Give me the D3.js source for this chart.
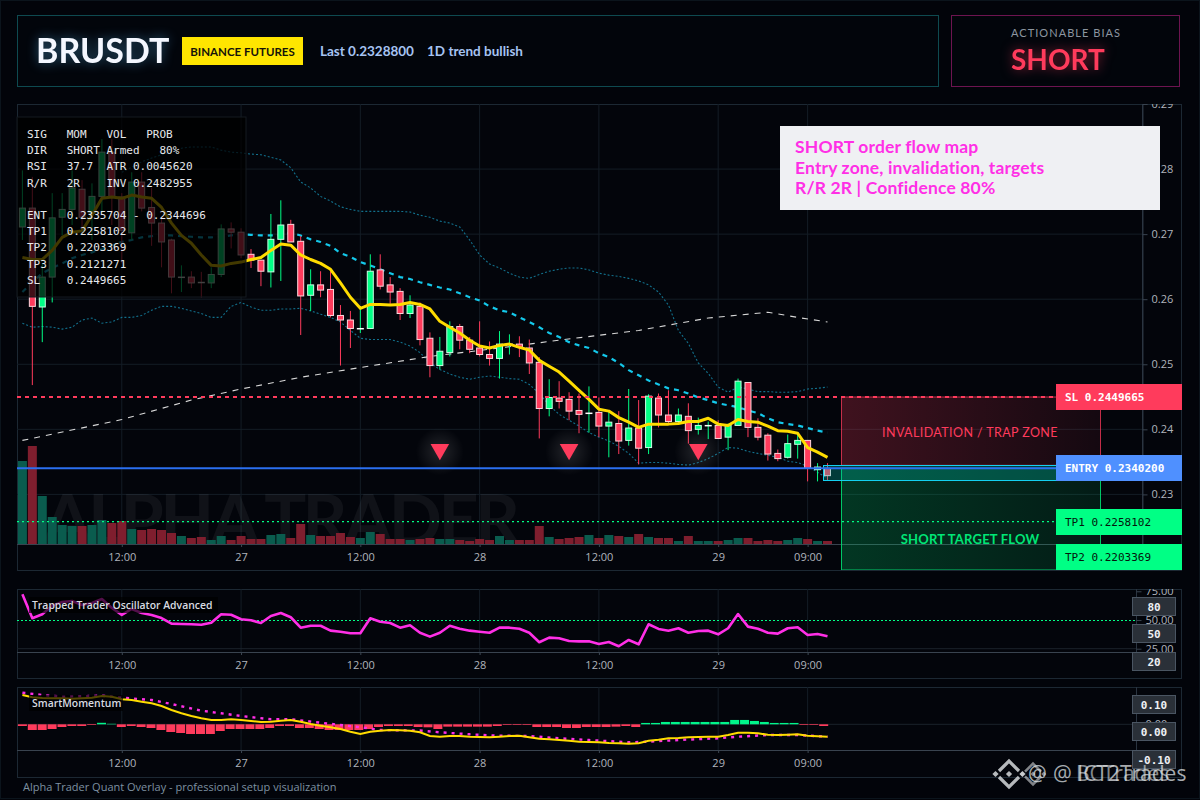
<!DOCTYPE html>
<html>
<head>
<meta charset="utf-8">
<script src="https://cdn.jsdelivr.net/npm/d3@7"></script>
<style>
html,body{margin:0;padding:0;background:#02040a;overflow:hidden;}
svg{display:block;}
.mono{font-family:"DejaVu Sans Mono",monospace;}
.head{font-family:Lato,"Noto Sans",sans-serif;}
.tick text{font-family:"Open Sans",sans-serif;font-size:11px;fill:#b0b4bc;}
</style>
</head>
<body>
<script>
//candles, one per hour
var opens = [.2711,.2740,.2588,.2634,.2726,.2738,.2769,.2732,.2758,.2826,.2757,.2702,.2780,.2741,.2717,.2691,.2634,.2634,.2626,.2625,.2638,.2708,.2703,.2669,.2660,.2642,.2692,.2715,.2689,.2606,.2622,.2615,.2575,.2568,.2555,.2555,.2645,.2622,.2612,.2578,.2589,.2540,.2498,.2518,.2558,.2537,.2525,.2515,.2509,.2531,.2531,.2525,.2503,.2432,.2448,.2446,.2429,.2425,.2426,.2405,.2409,.2383,.2402,.2372,.2448,.2422,.2412,.2420,.2400,.2406,.2406,.2388,.2406,.2472,.2403,.2391,.2363,.2357,.2377,.2383,.2338,.2340];
var highs = [.2798,.2788,.2655,.2763,.2763,.2798,.2783,.2778,.2846,.2846,.2763,.2795,.2795,.2771,.2725,.2693,.2652,.2643,.2642,.2649,.2715,.2718,.2709,.2677,.2660,.2731,.2752,.2722,.2697,.2646,.2643,.2643,.2591,.2582,.2588,.2669,.2669,.2634,.2617,.2606,.2595,.2549,.2542,.2566,.2562,.2542,.2566,.2535,.2551,.2546,.2543,.2538,.2511,.2477,.2474,.2457,.2455,.2466,.2449,.2429,.2428,.2462,.2445,.2454,.2455,.2460,.2432,.2440,.2418,.2412,.2414,.2409,.2478,.2472,.2417,.2394,.2369,.2392,.2394,.2383,.2348,.2348];
var lows = [.2691,.2468,.2534,.2595,.2698,.2714,.2702,.2691,.2732,.2714,.2655,.2691,.2735,.2682,.2649,.2609,.2611,.2617,.2603,.2617,.2634,.2678,.2663,.2648,.2620,.2618,.2628,.2688,.2545,.2582,.2603,.2572,.2498,.2525,.2548,.2554,.2615,.2592,.2568,.2571,.2529,.2480,.2492,.2512,.2523,.2517,.2512,.2498,.2478,.2515,.2511,.2485,.2386,.2420,.2432,.2414,.2394,.2395,.2388,.2357,.2362,.2375,.2346,.2362,.2403,.2409,.2409,.2378,.2392,.2385,.2385,.2368,.2406,.2388,.2383,.2352,.2351,.2355,.2355,.2320,.2320,.2322];
var closes = [.2740,.2589,.2634,.2725,.2738,.2771,.2726,.2758,.2826,.2757,.2706,.2780,.2740,.2717,.2688,.2634,.2634,.2625,.26258,.2638,.2708,.2703,.2668,.2660,.2643,.2692,.2714,.2688,.2605,.2622,.2614,.2575,.2568,.2555,.2555,.2643,.2620,.2611,.2578,.2591,.2538,.2498,.2520,.2558,.2537,.2523,.2515,.2509,.2531,.2531,.2526,.2502,.2432,.2449,.2443,.2428,.2423,.2425,.2405,.2411,.2382,.2402,.2371,.2451,.2422,.2412,.2422,.2398,.2406,.2406,.2386,.2406,.2474,.2403,.2388,.2362,.2355,.2378,.2383,.2340,.2342,.23288];
//volume, arbitrary units, and whether the bar is green
var volumes = [83,98,48,27,19,18,18,19,24,21,23,15,14,15,14,11,8,6,7,4,8,4,8,5,5,9,10,6,20,9,8,8,11,7,6,12,10,5,5,4,5,6,5,5,4,3,5,4,8,4,4,4,18,7,5,6,7,9,6,9,8,7,10,7,6,6,3,8,3,3,3,4,6,6,3,4,3,4,6,5,3,3];
var volUp = [1,0,1,1,1,1,0,1,1,0,0,1,0,0,0,0,1,0,0,1,1,0,0,0,0,1,1,0,0,1,0,0,0,0,1,1,0,0,0,1,0,0,1,1,0,0,0,0,1,1,0,0,0,1,0,0,0,1,0,1,0,1,0,1,0,0,1,0,1,1,0,1,1,0,0,0,0,1,1,0,1,0];
//overlays on price
var emaLine = [.2664,.2661,.2661,.2675,.2695,.2703,.2705,.2729,.2755,.2757,.2755,.2760,.2757,.2755,.2741,.2717,.2698,.2686,.2668,.2652,.2651,.2655,.2657,.2661,.2664,.2675,.2685,.2683,.2668,.2661,.2655,.2646,.2625,.2603,.2586,.2592,.2592,.2591,.2592,.2595,.2592,.2585,.2566,.2557,.2548,.2537,.2528,.2525,.2529,.2531,.2526,.2522,.2506,.2497,.2488,.2474,.2460,.2446,.2431,.2428,.2418,.2411,.2403,.2408,.2408,.2408,.2409,.2412,.2412,.2417,.2408,.2406,.2415,.2412,.2411,.2405,.2398,.2397,.2394,.2372,.2365,.2357];
var midLine = [.2611,.2626,.2640,.2648,.2655,.2663,.2668,.2672,.2677,.2683,.2688,.2691,.2695,.2697,.2698,.2698,.2697,.2696,.2695,.2695,.2696,.2698,.2700,.2699,.2698,.2698,.2698,.2702,.2698,.2692,.2688,.2682,.2671,.2665,.2657,.2652,.2646,.2640,.2634,.2631,.2626,.2622,.2618,.2615,.2609,.2603,.2598,.2589,.2583,.2580,.2572,.2565,.2557,.2548,.2542,.2534,.2529,.2525,.2517,.2511,.2502,.2491,.2483,.2475,.2469,.2463,.2460,.2455,.2449,.2445,.2440,.2437,.2434,.2429,.2425,.2417,.2411,.2408,.2406,.2402,.2398,.2395];
var upperStart = 10;
var upperBand = [.2795,.2803,.2811,.2817,.2822,.2826,.2832,.2834,.2834,.2834,.2829,.2826,.2825,.2823,.2822,.2818,.2814,.2802,.2780,.2771,.2758,.2751,.2742,.2738,.2735,.2735,.2735,.2735,.2735,.2734,.2729,.2726,.2720,.2717,.2711,.2691,.2668,.2654,.2648,.2640,.2634,.2632,.2638,.2643,.2646,.2648,.2648,.2645,.2640,.2637,.2635,.2632,.2628,.2622,.2611,.2591,.2552,.2532,.2502,.2486,.2465,.2457,.2465,.2462,.2458,.2458,.2457,.2457,.2458,.2462,.2463,.2465];
var lowerBand = [.2563,.2557,.2558,.2557,.2554,.2557,.2568,.2571,.2563,.2565,.2572,.2572,.2575,.2583,.2589,.2589,.2586,.2582,.2578,.2572,.2572,.2589,.2595,.2588,.2583,.2583,.2585,.2585,.2586,.2582,.2577,.2572,.2565,.2552,.2540,.2538,.2538,.2538,.2534,.2528,.2518,.2502,.2492,.2485,.2480,.2477,.2480,.2482,.2480,.2478,.2477,.2469,.2455,.2437,.2423,.2414,.2405,.2395,.2388,.2382,.2374,.2363,.2348,.2349,.2349,.2348,.2346,.2345,.2349,.2355,.2363,.2372,.2371,.2366,.2363,.2360,.2357,.2351,.2349,.2343,.2334,.2325];
var slowIdx = [0,10,17,22,28,34,41,48,54,62,69,75,78,81];
var slowVal = [.2383,.2415,.2445,.2462,.2480,.2495,.2512,.2525,.2537,.2552,.2571,.2580,.2572,.2565];
//oscillator pane
var oscValues = [72.4,51.5,55,62.5,65.7,66.6,63.1,64.8,68.3,60.5,54.4,59.6,56.1,54.4,51.7,46.8,46.5,46.3,45.9,47.6,55,54.6,50.6,49.7,47.4,53.5,56.1,52.4,43.3,45,45,40.7,39.8,38.4,38.4,51.5,48.5,47.4,43.3,45.4,38.9,35.5,38.9,45,42.4,40.7,39.8,38.9,43.3,43.3,42.4,38.9,30.6,34.6,34.1,31.7,31.4,31.4,29.1,30.8,27.1,32.6,28.8,46.3,42.2,40.7,42.8,38.9,40.4,40.7,37.5,42.8,55.2,44.2,42.4,38.9,38.1,42.8,43.6,36.9,37.8,35.8];
//momentum pane
var momHist = [-.0034,-.0114,-.0114,-.0094,-.0054,-.0034,-.0034,-.0014,.003,.001,-.0054,-.0034,-.0054,-.0074,-.0114,-.0154,-.0174,-.0194,-.0194,-.0194,-.0134,-.0094,-.0094,-.0094,-.0094,-.0074,-.0034,-.0034,-.0074,-.0074,-.0094,-.0114,-.0114,-.0114,-.0114,-.0094,-.0054,-.0034,-.0034,-.0034,-.0054,-.006,-.0094,-.0047,-.0047,-.0047,-.0047,-.0047,-.0034,-.0014,-.0014,-.0014,-.0054,-.0054,-.0054,-.0074,-.0074,-.0054,-.0054,-.0054,-.0047,-.0034,-.0054,.0027,.0027,.0047,.0047,.0047,.0047,.0047,.0047,.0047,.0087,.0087,.0067,.0047,.0027,.0027,.0027,-.0014,-.0014,-.0034];
var momFast = [.0586,.054,.0526,.052,.052,.0512,.052,.0532,.0566,.0552,.05,.0486,.0452,.042,.0366,.0286,.022,.0166,.012,.0086,.0086,.01,.0086,.0066,.0046,.0052,.0072,.0086,.0052,.0006,-.0028,-.006,-.0094,-.0148,-.0194,-.0148,-.0128,-.0114,-.012,-.0128,-.016,-.0234,-.0248,-.0234,-.0234,-.0248,-.0254,-.026,-.0248,-.0234,-.0228,-.026,-.0288,-.03,-.0314,-.0328,-.0348,-.0354,-.036,-.0374,-.038,-.0388,-.038,-.0328,-.0308,-.028,-.0274,-.026,-.0254,-.0248,-.0248,-.0214,-.0168,-.0168,-.018,-.0208,-.0214,-.0208,-.02,-.0228,-.024,-.0248];
var momSlowIdx = [0,2,4,8,10,13,15,18,20,22,25,27,30,34,36,40,42,45,48,51,54,57,61,63,66,70,72,75,78,81];
var momSlowVal = [.0632,.0586,.0552,.0572,.0532,.0486,.0406,.0272,.022,.0166,.01,.01,.0032,-.006,-.0114,-.0124,-.016,-.02,-.0228,-.0234,-.028,-.0314,-.036,-.0348,-.0314,-.028,-.0248,-.0214,-.0214,-.0248];
//axis ticks and levels
var timeTickIdx = [10,22,34,46,58,70,79];
var timeTickLabels = ["12:00","27","12:00","28","12:00","29","09:00"];
var priceTicks = [.23,.24,.25,.26,.27,.28,.29];
var oscTicks = [25,50,75];
var momTicks = [0];
var markerIdx = [42,55,68];
var markerPrice = .2366;
var levelSL = .2449665, levelEntry = .23402, levelTP1 = .2258102, levelTP2 = .2203369;
var oscBoxes = ["80","50","20"];
var momBoxes = ["0.10","0.00","-0.10"];
var panelLines = ["SIG   MOM   VOL   PROB","DIR   SHORT Armed   80%","RSI   37.7  ATR 0.0045620","R/R   2R    INV 0.2482955","","ENT   0.2335704 - 0.2344696","TP1   0.2258102","TP2   0.2203369","TP3   0.2121271","SL    0.2449665"];
var calloutLines = ["SHORT order flow map","Entry zone, invalidation, targets","R/R 2R | Confidence 80%"];

var RED = "#ff3b5c", GREEN = "#00ff85", YELLOW = "#ffdc00", PINK = "#ff2fe6", GRID = "#141d26", FRAME = "#1c2833";

var svg = d3.select("body").append("svg").attr("width",1200).attr("height",800);
var defs = svg.append("defs");

function clip(id,x,y,w,h){
    defs.append("clipPath").attr("id",id).append("rect").attr("x",x).attr("y",y).attr("width",w).attr("height",h);
}
clip("mainClip",17,104,1125,440);
clip("axisClip",-1,104,40,440);
clip("oscClip",-1,589,46,63);
clip("zoneClip",17,104,1165,466);

function hGrad(id,col,a1,a2){
    var g = defs.append("linearGradient").attr("id",id);
    g.append("stop").attr("offset","0").attr("stop-color",col).attr("stop-opacity",a1);
    g.append("stop").attr("offset","1").attr("stop-color",col).attr("stop-opacity",a2);
}
hGrad("redZone",RED,.24,.07);
hGrad("greenZone","#00e676",.22,.1);
var halo = defs.append("radialGradient").attr("id","halo");
halo.append("stop").attr("offset","0").attr("stop-color","#fff").attr("stop-opacity",.13);
halo.append("stop").attr("offset","1").attr("stop-color","#fff").attr("stop-opacity",0);

//page background and outer edge
svg.append("rect").attr("width",1200).attr("height",800).attr("fill","#02040a");
svg.append("rect").attr("x",.5).attr("y",.5).attr("width",1199).attr("height",798).attr("fill","none").attr("stroke","#0b141c");

//header
svg.append("rect").attr("x",17.5).attr("y",15.5).attr("width",921).attr("height",71).attr("fill","#02050b").attr("stroke","#0e4a50");
svg.append("rect").attr("x",951.5).attr("y",15.5).attr("width",228).attr("height",71).attr("fill","#02050b").attr("stroke","#6d1450");
svg.append("text").attr("class","head").attr("x",36).attr("y",63).attr("font-size",34).attr("font-weight",700)
    .attr("fill","#f4f7ff").style("filter","drop-shadow(0 0 6px rgba(90,190,255,.45))").text("BRUSDT");
svg.append("rect").attr("x",182).attr("y",37).attr("width",121).attr("height",28).attr("fill","#ffe600");
svg.append("text").attr("class","head").attr("x",242.5).attr("y",55.5).attr("text-anchor","middle").attr("font-size",11.5).attr("font-weight",700)
    .attr("fill","#15130a").text("BINANCE FUTURES");
svg.append("text").attr("class","head").attr("x",320).attr("y",56).attr("font-size",13.5).attr("font-weight",700).attr("fill","#a6c3f2").text("Last 0.2328800");
svg.append("text").attr("class","head").attr("x",427).attr("y",56).attr("font-size",13.5).attr("font-weight",700).attr("fill","#a6c3f2").text("1D trend bullish");
svg.append("text").attr("class","head").attr("x",1011).attr("y",37).attr("font-size",11).attr("letter-spacing",1.05).attr("fill","#8d95a0").text("ACTIONABLE BIAS");
svg.append("text").attr("class","head").attr("x",1011).attr("y",70).attr("font-size",28).attr("font-weight",700).attr("fill",RED)
    .style("filter","drop-shadow(0 0 6px rgba(255,59,92,.55))").text("SHORT");

//scales, 65px per 0.01 on the main pane
var x = d3.scaleLinear().domain([0,81]).range([22.4,827.5]);
var histX = d3.scaleLinear().domain([0,81]).range([22.4,823.7]);
var y = d3.scaleLinear().domain([.2223,.29]).range([544.5,104]);
var volY = d3.scaleLinear().domain([0,100]).range([544,444]);
var oscY = d3.scaleLinear().domain([22.1,77]).range([652,589]);
var momY = d3.scaleLinear().domain([-.0514,.074]).range([750,687.3]);

function seriesLine(sx,sy,start){
    return d3.line().x(function(d,i){return sx(i+(start||0));}).y(function(d){return sy(d);});
}
function pickedLine(sx,sy,idx){
    return d3.line().x(function(d,i){return sx(idx[i]);}).y(function(d){return sy(d);});
}

//pane frame, vertical grid and time axis shared by all three panes
function drawPane(top,base,bottom,axisX){
    svg.append("rect").attr("x",17.5).attr("y",top+.5).attr("width",1164).attr("height",bottom-top).attr("fill","#03050b").attr("stroke",FRAME);
    svg.append("g").selectAll("line").data(timeTickIdx).enter().append("line")
        .attr("x1",function(d){return x(d);}).attr("x2",function(d){return x(d);})
        .attr("y1",top).attr("y2",base).attr("stroke",GRID);
    var ax = svg.append("g").attr("transform","translate(0,"+base+")")
        .call(d3.axisBottom(x).tickValues(timeTickIdx).tickSize(3).tickPadding(6)
            .tickFormat(function(d,i){return timeTickLabels[i];}));
    ax.select(".domain").remove();
    ax.selectAll("line").attr("stroke","#3d4854");
    svg.append("line").attr("x1",17).attr("x2",axisX).attr("y1",base+.5).attr("y2",base+.5).attr("stroke","#39434f");
    svg.append("line").attr("x1",axisX+.5).attr("x2",axisX+.5).attr("y1",top).attr("y2",base).attr("stroke","#2a3440");
}

//main pane
drawPane(104,544,570,1142);
svg.append("g").selectAll("line").data(priceTicks.slice(0,6)).enter().append("line")
    .attr("x1",17).attr("x2",1142).attr("y1",function(d){return y(d);}).attr("y2",function(d){return y(d);}).attr("stroke",GRID);

var main = svg.append("g").attr("clip-path","url(#mainClip)");
main.append("text").attr("x",43).attr("y",545).attr("font-family","Lato,sans-serif").attr("font-weight",700).attr("font-size",70)
    .attr("textLength",477).attr("fill","rgba(255,255,255,.055)").text("ALPHA TRADER");

main.append("g").selectAll("rect").data(volumes).enter().append("rect")
    .attr("x",function(d,i){return x(i)-4.5;}).attr("width",9)
    .attr("y",function(d){return volY(d);}).attr("height",function(d){return 544-volY(d);})
    .attr("fill",function(d,i){return volUp[i] ? "#0a5c4e" : "#7f1e2e";});

//bands and slow average
main.append("path").attr("d",seriesLine(x,y,upperStart)(upperBand)).attr("fill","none").attr("stroke","#12708c").attr("stroke-width",1.1).attr("stroke-dasharray","2,2");
main.append("path").attr("d",seriesLine(x,y)(lowerBand)).attr("fill","none").attr("stroke","#12708c").attr("stroke-width",1.1).attr("stroke-dasharray","2,2");
main.append("path").attr("d",pickedLine(x,y,slowIdx)(slowVal)).attr("fill","none").attr("stroke","#d8d8d8").attr("stroke-width",1.1).attr("stroke-dasharray","6,6");
main.append("path").attr("d",seriesLine(x,y)(midLine)).attr("fill","none").attr("stroke","#14c8ea").attr("stroke-width",2.2).attr("stroke-dasharray","5,5");

//candles
var candles = main.append("g").selectAll("g").data(closes).enter().append("g");
candles.append("line")
    .attr("x1",function(d,i){return x(i);}).attr("x2",function(d,i){return x(i);})
    .attr("y1",function(d,i){return y(highs[i]);}).attr("y2",function(d,i){return y(lows[i]);})
    .attr("stroke",function(d,i){return closes[i]>=opens[i] ? GREEN : RED;});
candles.append("rect")
    .attr("x",function(d,i){return x(i)-3;}).attr("width",6)
    .attr("y",function(d,i){return y(Math.max(opens[i],closes[i]));})
    .attr("height",function(d,i){return Math.max(.5,Math.abs(y(opens[i])-y(closes[i])));})
    .attr("fill",function(d,i){return closes[i]>=opens[i] ? GREEN : RED;})
    .attr("stroke",function(d,i){
        if (Math.abs(closes[i]-opens[i])<.0001) return "#fff";
        return closes[i]>=opens[i] ? "#c8ffe4" : "#ffd6dd";
    });

main.append("path").attr("d",seriesLine(x,y)(emaLine)).attr("fill","none").attr("stroke",YELLOW).attr("stroke-width",3).attr("stroke-linejoin","round");

//sell markers
markerIdx.forEach(function(d){
    main.append("circle").attr("cx",x(d)).attr("cy",y(markerPrice)).attr("r",24).attr("fill","url(#halo)");
    main.append("path").attr("transform","translate("+x(d)+","+(y(markerPrice)-2)+") rotate(180)")
        .attr("d",d3.symbol(d3.symbolTriangle).size(150)()).attr("fill",RED);
});

//zones
var zones = svg.append("g").attr("clip-path","url(#zoneClip)");
zones.append("rect").attr("x",841.5).attr("y",y(levelSL)).attr("width",259).attr("height",y(.2344696)-y(levelSL))
    .attr("fill","url(#redZone)").attr("stroke",RED).attr("stroke-opacity",.75);
zones.append("rect").attr("x",841.5).attr("y",y(levelEntry)).attr("width",259).attr("height",570-y(levelEntry))
    .attr("fill","url(#greenZone)").attr("stroke","#00e676").attr("stroke-opacity",.85);
zones.append("rect").attr("x",823.5).attr("y",465.5).attr("width",240).attr("height",15)
    .attr("fill","rgba(0,190,170,.3)").attr("stroke","#14d0f0");
zones.append("text").attr("class","head").attr("x",970).attr("y",437).attr("text-anchor","middle").attr("font-size",12.5)
    .attr("letter-spacing",.4).attr("fill",RED).text("INVALIDATION / TRAP ZONE");
zones.append("text").attr("class","head").attr("x",970).attr("y",544).attr("text-anchor","middle").attr("font-size",13).attr("font-weight",700)
    .attr("letter-spacing",.2).attr("fill","#00e676").text("SHORT TARGET FLOW");

//levels
svg.append("line").attr("x1",17).attr("x2",1056).attr("y1",y(levelSL)).attr("y2",y(levelSL)).attr("stroke",RED).attr("stroke-width",2).attr("stroke-dasharray","4,4");
svg.append("line").attr("x1",17).attr("x2",1056).attr("y1",y(levelEntry)).attr("y2",y(levelEntry)).attr("stroke","#2b6ff0").attr("stroke-width",2);
svg.append("line").attr("x1",17).attr("x2",1056).attr("y1",y(levelTP1)).attr("y2",y(levelTP1)).attr("stroke",GREEN).attr("stroke-width",1.2).attr("stroke-dasharray","2,3");

//price axis, drawn under the level tags
var priceAx = svg.append("g").attr("transform","translate(1142.5,0)").attr("clip-path","url(#axisClip)")
    .call(d3.axisRight(y).tickValues(priceTicks).tickSize(5).tickPadding(4).tickFormat(d3.format(".2f")));
priceAx.selectAll("line").attr("stroke","#39434f");
priceAx.select(".domain").attr("stroke","#2a3440");

function levelTag(top,bottom,fill,weight,col,label){
    svg.append("rect").attr("x",1056).attr("y",top).attr("width",126).attr("height",bottom-top).attr("fill",fill);
    svg.append("text").attr("class","mono").attr("x",1065).attr("y",(top+bottom)/2+4).attr("font-size",11)
        .attr("font-weight",weight).attr("fill",col).text(label);
}
levelTag(384,410,RED,700,"#fff","SL 0.2449665");
levelTag(455,481,"#4f90ff",700,"#fff","ENTRY 0.2340200");
levelTag(509,535,"#00ff85",400,"#04150c","TP1 0.2258102");
levelTag(544,570,"#00ff85",400,"#04150c","TP2 0.2203369");

//info panel over the left candles
svg.append("rect").attr("x",17).attr("y",117).attr("width",229).attr("height",180).attr("fill","rgba(0,0,0,.74)").attr("stroke","#141a20");
var rowY = [138,154,170,186.5,0,219,235,251,267.5,284];
svg.append("g").selectAll("text").data(panelLines).enter().append("text")
    .attr("class","mono").attr("x",27).attr("y",function(d,i){return rowY[i];})
    .attr("font-size",11).attr("fill","#e6e8ec").style("white-space","pre")
    .text(function(d){return d;});

//callout
svg.append("rect").attr("x",780).attr("y",126).attr("width",380).attr("height",84).attr("fill","#eff0f3");
svg.append("g").selectAll("text").data(calloutLines).enter().append("text")
    .attr("class","head").attr("x",795).attr("y",function(d,i){return 153+i*20.5;})
    .attr("font-size",17.5).attr("font-weight",700).attr("letter-spacing",.15).attr("fill",PINK).text(function(d){return d;});

//boxes pinned on the right axis of the lower panes
function valueBoxes(labels,tops){
    svg.append("g").selectAll("g").data(labels).enter().append("g").each(function(d,i){
        d3.select(this).append("rect").attr("x",1132.5).attr("y",tops[i]).attr("width",43).attr("height",18)
            .attr("fill","#2a3038").attr("stroke","#4a5562");
        d3.select(this).append("text").attr("class","mono").attr("x",1154).attr("y",tops[i]+13).attr("text-anchor","middle")
            .attr("font-size",11).attr("font-weight",700).attr("fill","#eef1f4").text(d);
    });
}
function paneTitle(label,boxW,top,size){
    svg.append("rect").attr("x",29).attr("y",top).attr("width",boxW).attr("height",16).attr("fill","rgba(0,0,0,.68)");
    svg.append("text").attr("x",32).attr("y",top+12).attr("font-family","'Open Sans',sans-serif").attr("font-size",size).attr("font-weight",600)
        .attr("fill","#d8dbe0").text(label);
}

//oscillator pane
drawPane(589,652,678,1136);
var oscAx = svg.append("g").attr("transform","translate(1136.5,0)").attr("clip-path","url(#oscClip)")
    .call(d3.axisRight(oscY).tickValues(oscTicks).tickSize(5).tickPadding(4).tickFormat(d3.format(".2f")));
oscAx.select(".domain").remove();
oscAx.selectAll("line").attr("stroke","#39434f");
svg.append("line").attr("x1",17).attr("x2",1136).attr("y1",oscY(25)).attr("y2",oscY(25)).attr("stroke","#1b222b");
svg.append("line").attr("x1",17).attr("x2",1136).attr("y1",oscY(50)+.5).attr("y2",oscY(50)+.5).attr("stroke",GREEN).attr("stroke-width",1.2).attr("stroke-dasharray","2,2");
svg.append("path").attr("d",seriesLine(x,oscY)(oscValues)).attr("fill","none").attr("stroke",PINK).attr("stroke-width",2.6).attr("stroke-linejoin","round");
paneTitle("Trapped Trader Oscillator Advanced",189,597,10.4);
valueBoxes(oscBoxes,[597.5,624.5,652.5]);

//momentum pane
drawPane(687,750,777,1136);
var momAx = svg.append("g").attr("transform","translate(1136.5,0)")
    .call(d3.axisRight(momY).tickValues(momTicks).tickSize(5).tickPadding(4).tickFormat(d3.format(".2f")));
momAx.select(".domain").remove();
momAx.selectAll("line").attr("stroke","#39434f");
svg.append("line").attr("x1",17).attr("x2",1136).attr("y1",momY(0)).attr("y2",momY(0)).attr("stroke","#1b222b");
svg.append("g").selectAll("rect").data(momHist).enter().append("rect")
    .attr("x",function(d,i){return histX(i)-4.5;}).attr("width",9)
    .attr("y",function(d){return d>0 ? momY(d) : momY(0);})
    .attr("height",function(d){return Math.abs(momY(d)-momY(0));})
    .attr("fill",function(d){return d>0 ? "#00f58a" : RED;});
svg.append("path").attr("d",pickedLine(x,momY,momSlowIdx)(momSlowVal)).attr("fill","none").attr("stroke",PINK).attr("stroke-width",2.4).attr("stroke-dasharray","3,5");
svg.append("path").attr("d",seriesLine(x,momY)(momFast)).attr("fill","none").attr("stroke",YELLOW).attr("stroke-width",2);
paneTitle("SmartMomentum",94,695,10.4);
valueBoxes(momBoxes,[695.5,722.5,750.5]);

//footer
svg.append("text").attr("x",23).attr("y",791).attr("font-family","'Open Sans',sans-serif").attr("font-size",11).attr("fill","#7d91a1")
    .text("Alpha Trader Quant Overlay - professional setup visualization");

//overlapping watermarks, bottom right
function logo(cx,cy,s,alpha){
    var g = svg.append("g").attr("transform","translate("+cx+","+cy+")").attr("fill","none").attr("stroke","#d6d9dc").attr("stroke-opacity",alpha).attr("stroke-width",s*.32);
    g.append("path").attr("d","M"+(-s)+",0L0,"+(-s)+"L"+s+",0").attr("transform","translate(0,"+(-s*.3)+")");
    g.append("path").attr("d","M"+(-s)+",0L0,"+s+"L"+s+",0").attr("transform","translate(0,"+(s*.3)+")");
    [[-1.35,0],[0,0],[1.35,0]].forEach(function(p){
        svg.append("rect").attr("x",cx+p[0]*s-s*.22).attr("y",cy-s*.22).attr("width",s*.44).attr("height",s*.44)
            .attr("transform","rotate(45,"+(cx+p[0]*s)+","+cy+")").attr("fill","#d6d9dc").attr("fill-opacity",alpha);
    });
}
logo(1009,774,10,.85);
logo(1033,774,8,.6);
svg.append("text").attr("x",1028).attr("y",781).attr("font-family","'Open Sans',sans-serif").attr("font-size",21).attr("fill","#dfe2e5").attr("fill-opacity",.75).text("@");
svg.append("text").attr("x",1053).attr("y",781).attr("font-family","'Open Sans',sans-serif").attr("font-size",21).attr("fill","#dfe2e5").attr("fill-opacity",.75).text("@ ICT2Trades");
svg.append("text").attr("x",1076).attr("y",781).attr("font-family","'Open Sans',sans-serif").attr("font-size",21).attr("fill","#dfe2e5").attr("fill-opacity",.6).text("BCTrades");
</script>
</body>
</html>
